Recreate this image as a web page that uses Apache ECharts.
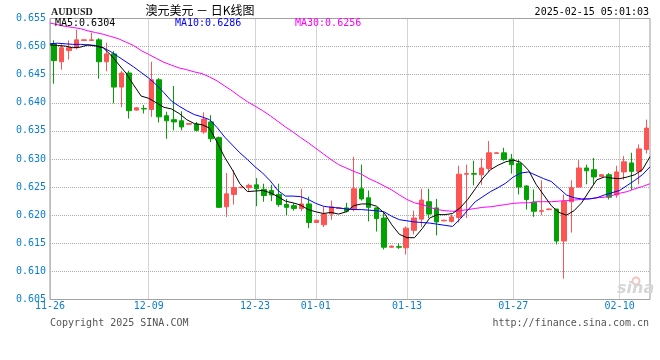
<!DOCTYPE html>
<html><head><meta charset="utf-8">
<script src="https://cdn.jsdelivr.net/npm/echarts@6/dist/echarts.min.js"></script>
<style>html,body{margin:0;padding:0;background:#fff}#c{width:660px;height:360px}</style>
</head><body><div id="c"></div>
<script>
const dates = ['11-26','11-27','11-28','11-29','11-30','12-01','12-02','12-03','12-04','12-05',
'12-06','12-07','12-08','12-09','12-10','12-11','12-12','12-13','12-14','12-15',
'12-16','12-17','12-18','12-19','12-20','12-21','12-22','12-23','12-24','12-26',
'12-27','12-28','12-29','12-30','12-31','01-01','01-02','01-03','01-04','01-05',
'01-06','01-07','01-08','01-09','01-10','01-11','01-12','01-13','01-14','01-15',
'01-16','01-17','01-18','01-19','01-20','01-21','01-22','01-23','01-24','01-25',
'01-26','01-27','01-28','01-29','01-30','01-31','02-01','02-02','02-03','02-04',
'02-05','02-06','02-07','02-08','02-09','02-10','02-11','02-12','02-13','02-14'];

const open = [0.6505,0.6473,0.6493,0.6498,0.6511,0.6511,0.6512,0.6473,0.6487,0.6428,
0.6453,0.6387,0.6390,0.6388,0.6441,0.6377,0.6370,0.6368,0.6362,0.6362,
0.6348,0.6366,0.6338,0.6215,0.6237,0.6249,0.6249,0.6254,0.6246,0.6244,
0.6237,0.6219,0.6217,0.6212,0.6220,0.6187,0.6183,0.6202,0.6212,0.6213,
0.6211,0.6247,0.6231,0.6213,0.6195,0.6143,0.6144,0.6142,0.6173,0.6193,
0.6224,0.6213,0.6190,0.6189,0.6196,0.6273,0.6274,0.6272,0.6283,0.6310,
0.6311,0.6300,0.6292,0.6252,0.6223,0.6207,0.6210,0.6211,0.6154,0.6224,
0.6250,0.6284,0.6281,0.6269,0.6272,0.6236,0.6277,0.6293,0.6278,0.6317];

const close = [0.6475,0.6498,0.6498,0.6512,0.6512,0.6512,0.6473,0.6487,0.6428,0.6453,
0.6386,0.6391,0.6389,0.6441,0.6375,0.6368,0.6366,0.6357,0.6363,0.6351,
0.6371,0.6336,0.6214,0.6238,0.6249,0.6250,0.6253,0.6247,0.6235,0.6236,
0.6219,0.6214,0.6212,0.6220,0.6187,0.6191,0.6202,0.6215,0.6213,0.6207,
0.6247,0.6229,0.6214,0.6194,0.6143,0.6145,0.6143,0.6177,0.6195,0.6227,
0.6202,0.6188,0.6191,0.6197,0.6273,0.6274,0.6273,0.6284,0.6311,0.6311,
0.6299,0.6290,0.6250,0.6228,0.6207,0.6208,0.6211,0.6154,0.6225,0.6249,
0.6284,0.6279,0.6268,0.6272,0.6232,0.6277,0.6295,0.6278,0.6318,0.6355];

const low = [0.6434,0.6459,0.6477,0.6495,0.6510,0.6510,0.6443,0.6456,0.6399,0.6392,
0.6372,0.6386,0.6381,0.6375,0.6365,0.6336,0.6351,0.6351,0.6361,0.6349,
0.6345,0.6330,0.6213,0.6197,0.6219,0.6248,0.6243,0.6216,0.6224,0.6225,
0.6215,0.6200,0.6208,0.6207,0.6177,0.6186,0.6179,0.6192,0.6211,0.6205,
0.6207,0.6226,0.6189,0.6171,0.6139,0.6142,0.6140,0.6130,0.6166,0.6179,
0.6195,0.6164,0.6189,0.6187,0.6187,0.6195,0.6253,0.6254,0.6277,0.6309,
0.6297,0.6274,0.6237,0.6210,0.6197,0.6200,0.6209,0.6148,0.6087,0.6169,
0.6250,0.6255,0.6255,0.6268,0.6228,0.6231,0.6263,0.6245,0.6255,0.6310];

const high = [0.6511,0.6504,0.6511,0.6530,0.6513,0.6525,0.6515,0.6507,0.6492,0.6457,
0.6457,0.6392,0.6396,0.6473,0.6444,0.6384,0.6430,0.6385,0.6364,0.6366,
0.6383,0.6378,0.6340,0.6275,0.6280,0.6251,0.6256,0.6266,0.6256,0.6254,
0.6256,0.6229,0.6221,0.6247,0.6233,0.6192,0.6215,0.6226,0.6214,0.6222,
0.6304,0.6290,0.6244,0.6214,0.6204,0.6146,0.6150,0.6180,0.6208,0.6247,
0.6247,0.6229,0.6192,0.6201,0.6288,0.6290,0.6297,0.6301,0.6332,0.6312,
0.6320,0.6309,0.6299,0.6253,0.6246,0.6262,0.6212,0.6211,0.6237,0.6262,
0.6298,0.6290,0.6302,0.6273,0.6275,0.6288,0.6305,0.6311,0.6326,0.6370];

const ma5 = [0.6503,0.6502,0.6501,0.6498,0.6499,0.6503,0.6501,0.6498,0.6485,0.6469,
0.6453,0.6432,0.6412,0.6408,0.6400,0.6392,0.6389,0.6381,0.6370,0.6363,
0.6361,0.6355,0.6330,0.6303,0.6281,0.6256,0.6242,0.6243,0.6244,0.6240,
0.6233,0.6225,0.6222,0.6218,0.6210,0.6206,0.6203,0.6205,0.6202,0.6206,
0.6217,0.6220,0.6220,0.6216,0.6204,0.6183,0.6166,0.6160,0.6160,0.6176,
0.6195,0.6201,0.6201,0.6203,0.6213,0.6228,0.6247,0.6266,0.6281,0.6289,
0.6295,0.6298,0.6294,0.6280,0.6255,0.6236,0.6217,0.6205,0.6200,0.6208,
0.6222,0.6243,0.6263,0.6268,0.6266,0.6265,0.6268,0.6272,0.6281,0.6304];

const ma10 = [0.6505,0.6506,0.6505,0.6504,0.6504,0.6503,0.6502,0.6498,0.6491,0.6482,
0.6473,0.6464,0.6454,0.6444,0.6432,0.6418,0.6403,0.6394,0.6386,0.6379,
0.6375,0.6370,0.6356,0.6339,0.6325,0.6311,0.6299,0.6286,0.6275,0.6261,
0.6244,0.6234,0.6234,0.6233,0.6228,0.6221,0.6216,0.6214,0.6213,0.6211,
0.6210,0.6210,0.6209,0.6208,0.6206,0.6198,0.6192,0.6190,0.6188,0.6187,
0.6186,0.6184,0.6182,0.6180,0.6193,0.6209,0.6224,0.6233,0.6242,0.6249,
0.6257,0.6268,0.6275,0.6277,0.6271,0.6265,0.6260,0.6248,0.6236,0.6231,
0.6229,0.6229,0.6231,0.6236,0.6240,0.6244,0.6253,0.6262,0.6272,0.6286];

const ma30 = [0.6542,0.6539,0.6536,0.6534,0.6532,0.6528,0.6525,0.6522,0.6518,0.6514,
0.6508,0.6502,0.6493,0.6486,0.6479,0.6472,0.6467,0.6462,0.6459,0.6455,
0.6452,0.6446,0.6439,0.6430,0.6421,0.6411,0.6402,0.6394,0.6386,0.6377,
0.6367,0.6357,0.6348,0.6338,0.6329,0.6319,0.6309,0.6299,0.6290,0.6284,
0.6278,0.6273,0.6265,0.6259,0.6252,0.6245,0.6236,0.6228,0.6222,0.6219,
0.6214,0.6210,0.6208,0.6207,0.6208,0.6210,0.6212,0.6214,0.6215,0.6217,
0.6219,0.6221,0.6222,0.6222,0.6224,0.6224,0.6224,0.6225,0.6226,0.6227,
0.6228,0.6229,0.6231,0.6232,0.6235,0.6239,0.6242,0.6247,0.6251,0.6256];

const labelIdx = [0, 13, 27, 35, 47, 61, 75];
const yMin = 0.605, yMax = 0.655, yStep = 0.005;

const MONO = '"DejaVu Sans Mono", "Liberation Mono", monospace';
const BLUE = '#0a7ed2';
const RED = '#fd5454';
const GREEN = '#03a203';
const n = dates.length;
const last = n - 1;

const chart = echarts.init(document.getElementById('c'), null, {renderer: 'canvas'});
const kData = dates.map((d, i) => [open[i], close[i], low[i], high[i]]);
const pts = arr => arr.map((v, i) => [i, v]);

function txt(x, y, text, opts) {
  return Object.assign({
    type: 'text', x: x, y: y, z: 100, silent: true,
    style: Object.assign({text: text, fill: '#000', font: '10px ' + MONO, align: 'left', verticalAlign: 'middle'}, opts || {})
  });
}

const option = {
  animation: false,
  backgroundColor: '#ffffff',
  grid: {left: 50, top: 18.5, width: 600, height: 281, show: true, borderColor: '#999', borderWidth: 1,
         backgroundColor: 'transparent', outerBoundsMode: 'none', containLabel: false},
  xAxis: [
    {type: 'category', data: dates, boundaryGap: true, gridIndex: 0,
     axisLine: {show: false}, axisTick: {show: false}, axisLabel: {show: false}, splitLine: {show: false}},
    {type: 'value', min: 0, max: last, gridIndex: 0, position: 'bottom',
     axisLine: {show: false},
     axisTick: {show: false, customValues: labelIdx},
     axisLabel: {customValues: labelIdx, formatter: v => dates[Math.round(v)], color: BLUE,
                 fontFamily: MONO, fontSize: 10, margin: 2},
     splitLine: {show: true, lineStyle: {color: '#aaa', width: 1, type: [1, 1]}}}
  ],
  yAxis: {type: 'value', min: yMin, max: yMax, interval: yStep, position: 'left',
    axisLine: {show: false}, axisTick: {show: false},
    axisLabel: {formatter: v => v.toFixed(3), color: BLUE, fontFamily: MONO, fontSize: 10, margin: 4,
                padding: [0, 0, 4, 0]},
    splitLine: {show: true, lineStyle: {color: '#aaa', width: 1, type: [1, 1]}}},
  series: [
    {type: 'candlestick', xAxisIndex: 0, yAxisIndex: 0, data: kData, barWidth: 5,
     itemStyle: {color: RED, color0: GREEN, borderColor: RED, borderColor0: GREEN, borderWidth: 1}},
    {type: 'line', name: 'MA30', xAxisIndex: 1, yAxisIndex: 0, data: pts(ma30), showSymbol: false, symbol: 'none',
     lineStyle: {color: '#ff00ff', width: 1}, z: 3},
    {type: 'line', name: 'MA10', xAxisIndex: 1, yAxisIndex: 0, data: pts(ma10), showSymbol: false, symbol: 'none',
     lineStyle: {color: '#0000ff', width: 1}, z: 3},
    {type: 'line', name: 'MA5', xAxisIndex: 1, yAxisIndex: 0, data: pts(ma5), showSymbol: false, symbol: 'none',
     lineStyle: {color: '#000000', width: 1}, z: 3}
  ],
  graphic: [
    txt(51, 12, 'AUDUSD', {font: 'bold 10px "Liberation Serif", serif', fill: '#222'}),
    txt(200, 10, '澳元美元 － 日K线图', {font: '12px "Noto Sans CJK SC"', align: 'center'}),
    txt(649, 12, '2025-02-15 05:01:03', {align: 'right'}),
    txt(55, 23.5, 'MA5:' + ma5[last].toFixed(4), {fill: '#000'}),
    txt(175, 23.5, 'MA10:' + ma10[last].toFixed(4), {fill: '#0000ff'}),
    txt(295, 23.5, 'MA30:' + ma30[last].toFixed(4), {fill: '#ff00ff'}),
    txt(50, 323, 'Copyright 2025 SINA.COM', {fill: '#555'}),
    txt(649, 323, 'http://finance.sina.com.cn', {fill: '#555', align: 'right'}),
    {type: 'circle', z: 1, silent: true, shape: {cx: 636, cy: 281, r: 3.5},
     style: {fill: 'none', stroke: '#f2c4c4', lineWidth: 2}},
    {type: 'text', x: 617, y: 289, z: 1, silent: true,
     style: {text: 'sina', font: 'italic bold 16px "DejaVu Sans"', fill: '#d6d6d6', align: 'left', verticalAlign: 'middle'}}
  ]
};
chart.setOption(option);
</script>
</body></html>
